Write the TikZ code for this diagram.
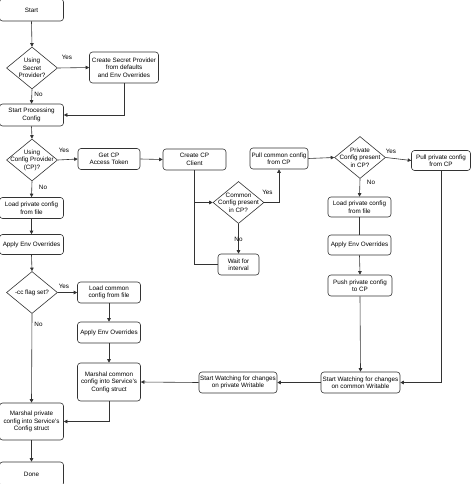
\documentclass[tikz,border=0pt]{standalone}
\usepackage{fontspec}
\setmainfont{Liberation Sans}
\usetikzlibrary{shapes.geometric}
\usetikzlibrary{arrows.meta}
\tikzstyle{flowChart} = [x = 1pt, y = -1pt]
\definecolor{lineColor}{RGB}{51,51,51}
\newcommand{\flowFont}{\fontsize{6.3}{7.5}\selectfont}
\tikzstyle{boxStyle} = [draw=lineColor, fill=white, rounded corners = 3pt, line width=0.6pt, align=center, inner sep=0pt, font=\flowFont]
\tikzstyle{decisionStyle} = [draw=lineColor, fill=white, diamond, line width=0.6pt, inner sep=0pt, minimum width=51pt, minimum height=42pt]
\tikzstyle{decisionText} = [align=center, inner sep=0pt, font=\flowFont]
\tikzstyle{labelText} = [inner sep=0pt, font=\flowFont]
\tikzstyle{flowLine} = [draw=lineColor, line width=0.6pt]
\tikzstyle{flowArrow} = [flowLine, -{Triangle[length=3.5pt, width=3.5pt]}]
\newcommand{\flowBox}[6]{\node [boxStyle, minimum width=#4pt, minimum height=#5pt] (#1) at (#2,#3) {#6};}
\newcommand{\decision}[4]{\node [decisionStyle, label={[decisionText]center:#4}] (#1) at (#2,#3) {};}
\newcommand{\edgeLabel}[4]{\node [labelText] (#1) at (#2,#3) {#4};}

\begin{document}
\begin{tikzpicture}[flowChart]
          \useasboundingbox (0,0) rectangle (474,484);

          % left column
          \flowBox{start}{31.5}{10}{64}{22}{Start}
          \decision{secretDecision}{32}{68}{Using\\Secret\\Provider?}
          \flowBox{secretCreate}{124}{67.5}{69}{31}{Create Secret Provider\\from defaults\\and Env Overrides}
          \flowBox{startProcessing}{31.5}{115}{64}{22}{Start Processing\\Config}
          \decision{cpDecision}{32}{160}{Using\\Config Provider\\(CP)?}
          \flowBox{getToken}{109}{159}{62}{21}{Get CP\\Access Token}
          \flowBox{createClient}{194.5}{159.5}{63}{21}{Create CP\\Client}
          \flowBox{loadPrivate}{31.5}{208}{64}{21}{Load private config\\from file}
          \flowBox{applyLeft}{31.5}{244.5}{64}{20}{Apply Env Overrides}
          \decision{ccDecision}{32}{292.5}{-cc flag set?}
          \flowBox{loadCommon}{109}{292.5}{63}{21}{Load common\\config from file}
          \flowBox{applyMiddle}{109}{332.5}{63}{21}{Apply Env Overrides}
          \flowBox{marshalCommon}{109}{382}{63}{38}{Marshal common\\config into Service's\\Config struct}
          \flowBox{marshalPrivate}{31.5}{421.5}{64}{37}{Marshal private\\config into Service's\\Config struct}
          \flowBox{done}{31.5}{474}{64}{24}{Done}

          % config provider side
          \decision{commonDecision}{238.5}{202.5}{Common\\Config present\\in CP?}
          \flowBox{pullCommon}{279}{158.5}{58}{21}{Pull common config\\from CP}
          \flowBox{waitInterval}{238.5}{264.5}{41}{21}{Wait for\\interval}
          \decision{privateDecision}{360}{157.5}{Private\\Config present\\in CP?}
          \flowBox{pullPrivate}{441}{160.5}{59}{20}{Pull private config\\from CP}
          \flowBox{loadPrivateRight}{359.5}{207}{63}{20}{Load private config\\from file}
          \flowBox{applyRight}{359.5}{245}{63}{20}{Apply Env Overrides}
          \flowBox{pushPrivate}{360}{285.5}{64}{21}{Push private config\\to CP}
          \flowBox{watchCommon}{360.5}{382.5}{79}{21}{Start Watching for changes\\on common Writable}
          \flowBox{watchPrivate}{238}{382.5}{78}{21}{Start Watching for changes\\on private Writable}

          % connectors
          \draw [flowArrow] (start.south) -- (secretDecision.north);
          \draw [flowArrow] (secretDecision.east) -- (secretCreate.west);
          \draw [flowArrow] (secretCreate.south) |- (startProcessing.east);
          \draw [flowArrow] (secretDecision.south) -- (startProcessing.north);
          \draw [flowArrow] (startProcessing.south) -- (cpDecision.north);
          \draw [flowArrow] (cpDecision.east) -- (getToken.west);
          \draw [flowArrow] (getToken.east) -- (createClient.west);
          \draw [flowArrow] (cpDecision.south) -- (loadPrivate.north);
          \draw [flowArrow] (loadPrivate.south) -- (applyLeft.north);
          \draw [flowArrow] (applyLeft.south) -- (ccDecision.north);
          \draw [flowArrow] (ccDecision.east) -- (loadCommon.west);
          \draw [flowArrow] (ccDecision.south) -- (marshalPrivate.north);
          \draw [flowArrow] (loadCommon.south) -- (applyMiddle.north);
          \draw [flowArrow] (applyMiddle.south) -- (marshalCommon.north);
          \draw [flowArrow] (marshalCommon.south) |- (marshalPrivate.east);
          \draw [flowArrow] (marshalPrivate.south) -- (done.north);

          \coordinate (loopJoin) at (createClient.south |- commonDecision.west);
          \draw [flowArrow] (createClient.south) |- (commonDecision.west);
          \draw [flowLine] (waitInterval.west) -| (loopJoin);
          \draw [flowArrow] (commonDecision.east) -| (pullCommon.south);
          \draw [flowArrow] (commonDecision.south) -- (waitInterval.north);
          \draw [flowArrow] (pullCommon.east) -- (privateDecision.west);
          \draw [flowArrow] (privateDecision.east) -- (pullPrivate.west);
          \draw [flowArrow] (privateDecision.south) -- (loadPrivateRight.north);
          \draw [flowLine] (loadPrivateRight.south) -- (applyRight.north);
          \draw [flowArrow] (applyRight.south) -- (pushPrivate.north);
          \draw [flowArrow] (pushPrivate.south) -- (watchCommon.north);
          \draw [flowArrow] (pullPrivate.south) |- (watchCommon.east);
          \draw [flowArrow] (watchCommon.west) -- (watchPrivate.east);
          \draw [flowArrow] (watchPrivate.west) -- (marshalCommon.east);

          % branch labels
          \edgeLabel{yesSecret}{67}{57}{Yes}
          \edgeLabel{noSecret}{38.5}{94}{No}
          \edgeLabel{yesCp}{64}{150}{Yes}
          \edgeLabel{noCp}{43}{187}{No}
          \edgeLabel{yesCc}{64}{286}{Yes}
          \edgeLabel{noCc}{38.5}{324}{No}
          \edgeLabel{yesCommon}{267.5}{192}{Yes}
          \edgeLabel{noCommon}{238.5}{239}{No}
          \edgeLabel{yesPrivate}{391}{151}{Yes}
          \edgeLabel{noPrivate}{371}{182}{No}
        \end{tikzpicture}
\end{document}
